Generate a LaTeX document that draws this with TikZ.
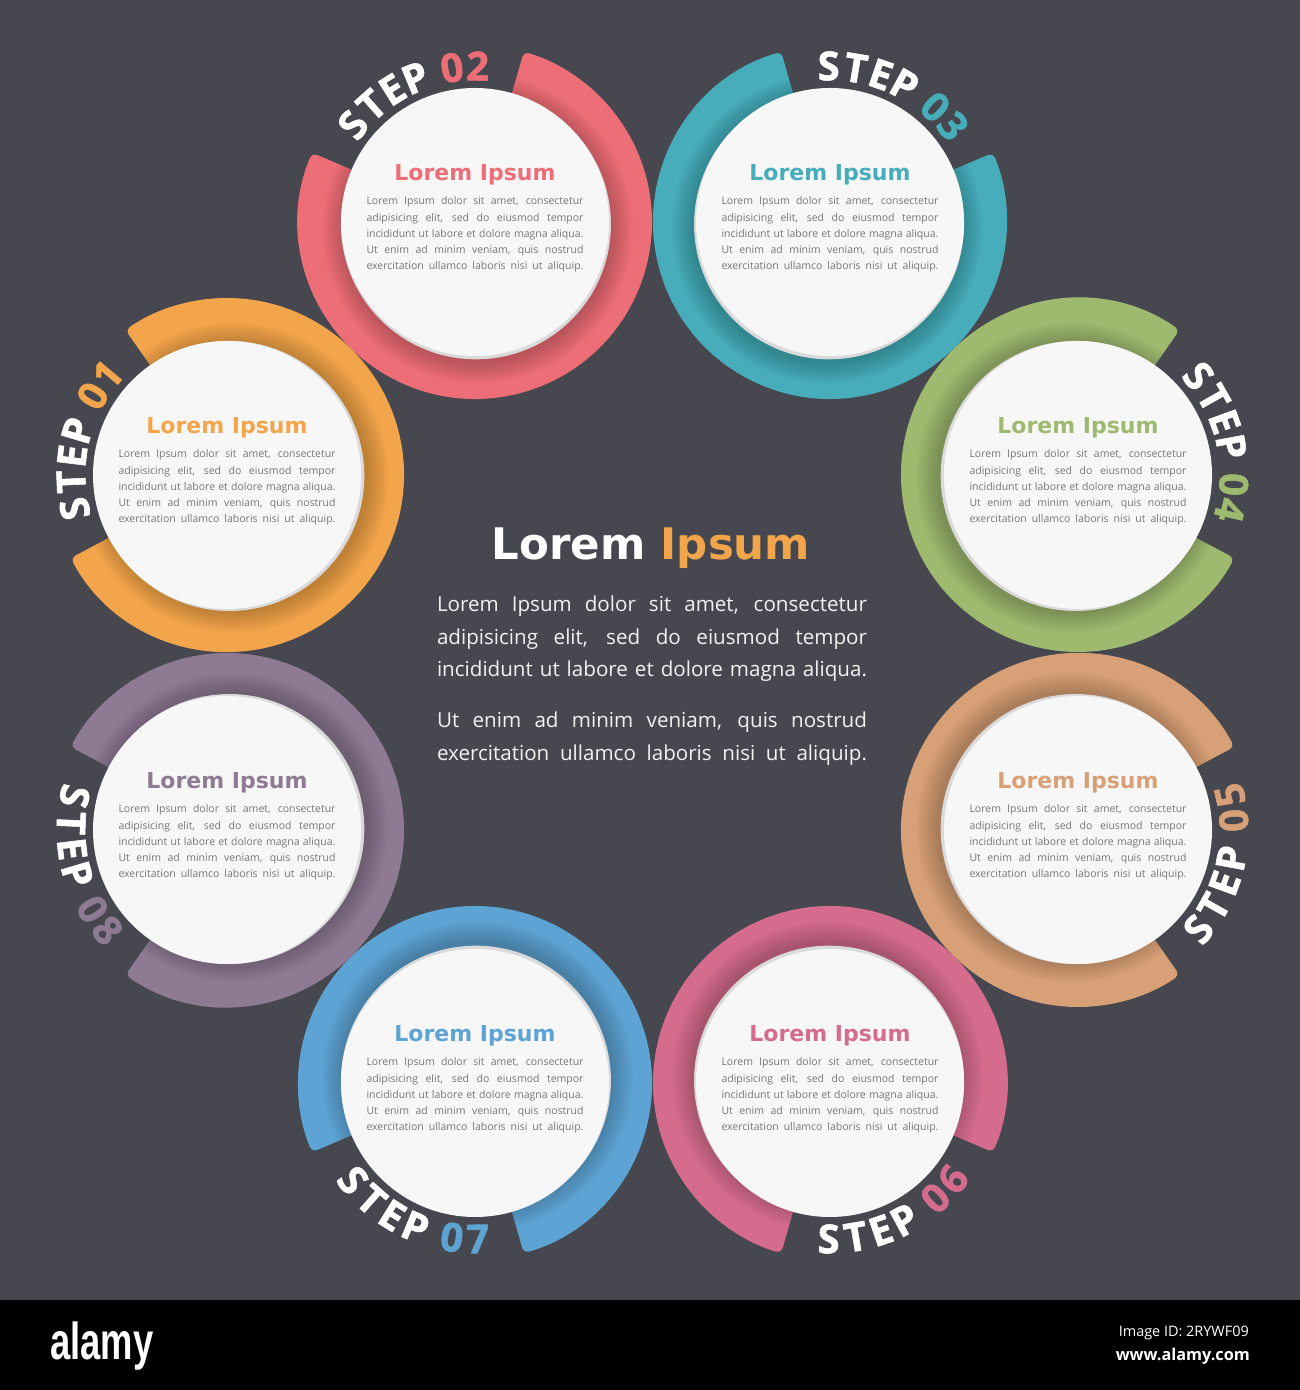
\documentclass[tikz,border=0pt]{standalone}
\usepackage{fontspec}
\setmainfont{Open Sans}
\newfontfamily\osans{Open Sans}
\newfontfamily\stepfont[BoldFeatures={FakeBold=1.3}]{Open Sans}
\newfontfamily\titlefont{DejaVu Sans}
\newfontfamily\logofont{Liberation Sans}
\usetikzlibrary{calc}
\definecolor{bgdark}{HTML}{46474F}
\definecolor{c1}{HTML}{F3A54B}
\definecolor{c2}{HTML}{EE6E78}
\definecolor{c3}{HTML}{47ADBA}
\definecolor{c4}{HTML}{9DBA6F}
\definecolor{c5}{HTML}{D8A077}
\definecolor{c6}{HTML}{D56C8E}
\definecolor{c7}{HTML}{5DA3D3}
\definecolor{c8}{HTML}{8E7B93}
\definecolor{bodygray}{HTML}{767676}
\definecolor{paper}{HTML}{F7F7F7}
\definecolor{rim}{HTML}{DADADA}
\definecolor{lighttext}{HTML}{F2F2F2}

\newcommand\ringpath[3]{($(#1)+(#3:177)$) arc[start angle=#3, end angle=#2+360, radius=177] -- ($(#1)+(#2:122)$) arc[start angle=#2, end angle=#3-360, radius=122] -- cycle}
\newcommand\jl[2]{\makebox[#1][s]{#2}}
\newcommand\circlebody{\parbox[t]{217pt}{\fontsize{10.5}{16.2}\selectfont
\jl{217pt}{Lorem Ipsum dolor sit amet, consectetur}\\
\jl{217pt}{adipisicing elit, sed do eiusmod tempor}\\
\jl{217pt}{incididunt ut labore et dolore magna aliqua.}\\
\jl{217pt}{Ut enim ad minim veniam, quis nostrud}\\
\jl{217pt}{exercitation ullamco laboris nisi ut aliquip.}}}

\begin{document}
\begin{tikzpicture}[x=1pt,y=1pt,
  ctitle/.style={font=\titlefont\bfseries\fontsize{22}{24}\selectfont, anchor=base, inner sep=0pt},
  cbody/.style={font=\osans, text=bodygray, anchor=base, inner sep=0pt},
  steptext/.style={font=\stepfont\bfseries\fontsize{40}{42}\selectfont, inner sep=0pt, anchor=center},
  bandtext/.style={text=white, inner sep=0pt}
]
\useasboundingbox (0,0) rectangle (1300,1390);
\fill[black] (0,0) rectangle (1300,90);
\fill[bgdark] (0,90) rectangle (1300,1390);
\coordinate (D) at (652.5,737.5);

\foreach \id/\x/\y/\ga/\gb/\sg in {1/227/915/125/208/1, 2/475/1168/74/157/1, 3/830/1168/23/106/1, 4/1078/915/-28/55/1, 5/1078/560/-55/28/-1, 6/830/307/254/337/-1, 7/475/307/203/286/-1, 8/227/560/152/235/-1}{
  \coordinate (c\id) at (\x,\y);
  \fill[c\id, rounded corners=5pt] \ringpath{c\id}{\ga}{\gb};
  \begin{scope}
    \clip \ringpath{c\id}{\ga}{\gb};
    \coordinate (s\id) at ($(c\id)!7pt!(D)$);
    \foreach \r in {135,137,...,155} \fill[black,opacity=0.018] (s\id) circle[radius=\r];
  \end{scope}
  \fill[rim] ($(c\id)!2.5pt!(D)$) circle[radius=135];
  \fill[paper] (c\id) circle[radius=134];
  \node[ctitle, text=c\id] (t\id) at ($(c\id)+(0,41)$) {Lorem Ipsum};
  \node[cbody] (b\id) at ($(c\id)+(0,17)$) {\circlebody};
  \pgfmathsetmacro\gc{(\ga+\gb)/2}
  \foreach \ch/\off/\cl [count=\k] in {S/26/white,T/16/white,E/6.5/white,P/-3/white,0/-17/c\id,\id/-26.5/c\id}{
    \pgfmathsetmacro\ang{\gc+\sg*(\off)}
    \pgfmathsetmacro\rot{\ang-\sg*90}
    \node[steptext, text=\cl, rotate=\rot] (l\id-\k) at ($(c\id)+(\ang:156)$) {\ch};
  }
}

\node[font=\titlefont\bfseries\fontsize{43.5}{48}\selectfont, anchor=base, inner sep=0pt] (ctitle) at (651,830) {\textcolor{white}{Lorem} \textcolor{c1}{Ipsum}};
\node[anchor=base, inner sep=0pt, text=lighttext, font=\osans] (cbody) at (652,778) {\parbox[t]{430pt}{\fontsize{20.6}{32.3}\selectfont
\jl{430pt}{Lorem Ipsum dolor sit amet, consectetur}\\
\jl{430pt}{adipisicing elit, sed do eiusmod tempor}\\
\jl{430pt}{incididunt ut labore et dolore magna aliqua.}\\[19pt]
\jl{430pt}{Ut enim ad minim veniam, quis nostrud}\\
\jl{430pt}{exercitation ullamco laboris nisi ut aliquip.}}};

\node[bandtext, anchor=base west, font=\logofont\bfseries\fontsize{52}{52}\selectfont] (logo) at (50,30) {\scalebox{0.7}[1]{alamy}};
\node[bandtext, anchor=base east, font=\osans\fontsize{14}{14}\selectfont] (imgid) at (1249,53) {\resizebox{130pt}{!}{Image ID: 2RYWF09}};
\node[bandtext, anchor=base east, font=\osans\bfseries\fontsize{15}{15}\selectfont] (www) at (1250,30) {\resizebox{134pt}{!}{www.alamy.com}};
\end{tikzpicture}
\end{document}
